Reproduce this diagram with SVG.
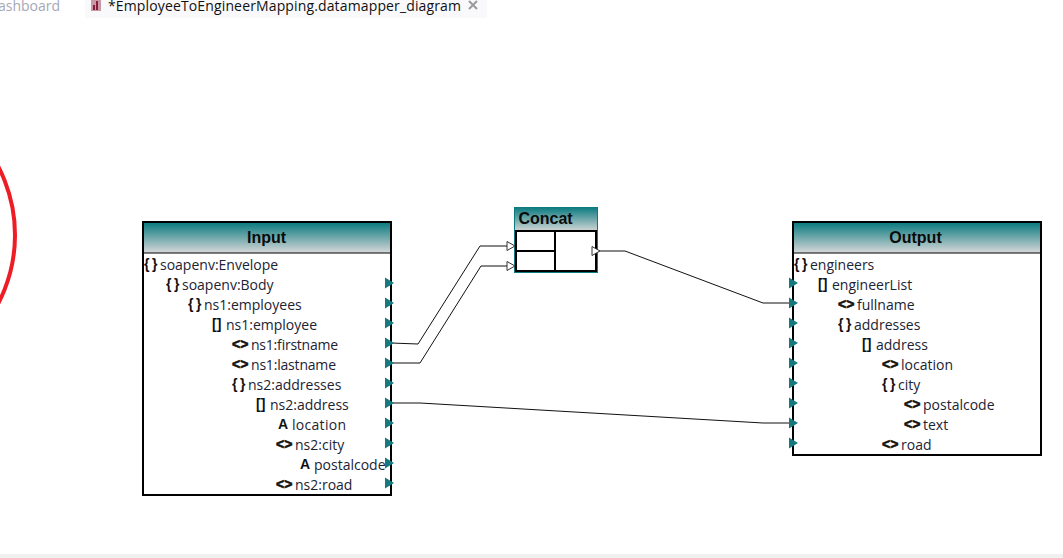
<svg xmlns="http://www.w3.org/2000/svg" width="1063" height="558" viewBox="0 0 1063 558">
<style>
text{font-family:"Open Sans","Noto Sans","Liberation Sans",sans-serif;font-size:14px;fill:#1c2333}
.ttl{font-family:"Liberation Sans",Arial,sans-serif;font-weight:700;font-size:16px;fill:#0b0b0b;text-anchor:middle}
.ic{font-family:"Liberation Sans",Arial,sans-serif;font-weight:700;font-size:14px;fill:#111}
.br{letter-spacing:2.500px}
.wd{font-size:14px;letter-spacing:0;stroke:#111;stroke-width:.6px}
.box{fill:#fff;stroke:#000;stroke-width:2}
.ln{fill:none;stroke:#111;stroke-width:1}
.cell{fill:none;stroke:#000;stroke-width:2}
</style>
<defs>
<linearGradient id="g" x1="0" y1="0" x2="0" y2="1"><stop offset="0" stop-color="#0c7b80"/><stop offset="1" stop-color="#d8d8d8"/></linearGradient>
<path id="p" d="M0-5.500L9 0 0 5.500Z" fill="#17797e"/>
<path id="h" d="M0-4.500L8 0 0 4.500Z" fill="#fff" stroke="#333" stroke-width="1"/>
</defs>
<rect x="85" y="0" width="402" height="18" fill="#f9f9fc"/>
<g id="tabs">
<text x="-2" y="11" style="fill:#a4a8b4">ashboard</text>
<rect x="91" y="0" width="10" height="11" fill="#c89aa8"/><path d="M94 10V5M97 10V1" stroke="#8a1d3a" stroke-width="2"/>
<text x="108" y="11" textLength="353" style="fill:#111">*EmployeeToEngineerMapping.datamapper_diagram</text>
<path d="M469 1L477 9M477 1L469 9" stroke="#9a9a9a" stroke-width="2" fill="none"/>
</g>
<circle cx="-133" cy="235" r="148" fill="none" stroke="#ee1c25" stroke-width="4"/>
<rect x="0" y="554" width="1063" height="4" fill="#f0f0f0"/>

<g id="connectors">
<path class="ln" d="M391 343L418 344 480 246H510"/>
<path class="ln" d="M391 363L420 363 481 266H510"/>
<path class="ln" d="M391 403L420 403 763 423H793"/>
<path class="ln" d="M597 251H625L763 303H793"/>
</g>

<g id="input">
<rect class="box" x="143" y="222" width="248" height="273"/>
<rect x="144" y="223" width="246" height="30" fill="url(#g)"/>
<path d="M143 253H391" stroke="#000" stroke-width="1"/>
<text class="ttl" x="266.500" y="243">Input</text>
<text class="ic br" x="144" y="269">{}</text><text x="160" y="270">soapenv:Envelope</text>
<text class="ic br" x="166" y="289">{}</text><text x="182" y="290">soapenv:Body</text>
<text class="ic br" x="188" y="309">{}</text><text x="204" y="310">ns1:employees</text>
<text class="ic" x="212" y="329">[]</text><text x="226" y="330">ns1:employee</text>
<text class="ic wd" x="232" y="349">&lt;&gt;</text><text x="251" y="350" textLength="87">ns1:firstname</text>
<text class="ic wd" x="232" y="369">&lt;&gt;</text><text x="251" y="370" textLength="85">ns1:lastname</text>
<text class="ic br" x="232" y="389">{}</text><text x="248" y="390">ns2:addresses</text>
<text class="ic" x="256" y="409">[]</text><text x="270" y="410">ns2:address</text>
<text class="ic" x="278" y="429">A</text><text x="292" y="430" textLength="54">location</text>
<text class="ic wd" x="276" y="449">&lt;&gt;</text><text x="295" y="450">ns2:city</text>
<text class="ic" x="300" y="469">A</text><text x="314" y="470">postalcode</text>
<text class="ic wd" x="276" y="489">&lt;&gt;</text><text x="295" y="490">ns2:road</text>
<use href="#p" x="385" y="283"/><use href="#p" x="385" y="303"/><use href="#p" x="385" y="323"/><use href="#p" x="385" y="343"/><use href="#p" x="385" y="363"/><use href="#p" x="385" y="383"/><use href="#p" x="385" y="403"/><use href="#p" x="385" y="423"/><use href="#p" x="385" y="443"/><use href="#p" x="385" y="463"/><use href="#p" x="385" y="483"/>
</g>

<g id="concat">
<rect x="514.500" y="207.500" width="83" height="24" fill="url(#g)"/>
<rect x="514.500" y="207.500" width="83" height="65" fill="none" stroke="#0c7b80" stroke-width="1"/>
<rect class="cell" x="516" y="231" width="80" height="40" style="fill:#fff"/>
<path class="cell" d="M516 251H555M555 231V271"/>
<text class="ttl" x="545.500" y="224">Concat</text>
<use href="#h" x="507" y="246"/><use href="#h" x="507" y="266"/><use href="#h" x="592" y="251"/>
</g>

<g id="output">
<rect class="box" x="793" y="222" width="248" height="233"/>
<rect x="794" y="223" width="246" height="30" fill="url(#g)"/>
<path d="M793 253H1041" stroke="#000" stroke-width="1"/>
<text class="ttl" x="915.500" y="243">Output</text>
<text class="ic br" x="794" y="269">{}</text><text x="810" y="270">engineers</text>
<text class="ic" x="818" y="289">[]</text><text x="832" y="290">engineerList</text>
<text class="ic wd" x="838" y="309">&lt;&gt;</text><text x="857" y="310">fullname</text>
<text class="ic br" x="838" y="329">{}</text><text x="854" y="330">addresses</text>
<text class="ic" x="862" y="349">[]</text><text x="876" y="350">address</text>
<text class="ic wd" x="882" y="369">&lt;&gt;</text><text x="901" y="370">location</text>
<text class="ic br" x="882" y="389">{}</text><text x="898" y="390">city</text>
<text class="ic wd" x="904" y="409">&lt;&gt;</text><text x="923" y="410">postalcode</text>
<text class="ic wd" x="904" y="429">&lt;&gt;</text><text x="923" y="430">text</text>
<text class="ic wd" x="882" y="449">&lt;&gt;</text><text x="901" y="450">road</text>
<use href="#p" x="789" y="283"/><use href="#p" x="789" y="303"/><use href="#p" x="789" y="323"/><use href="#p" x="789" y="343"/><use href="#p" x="789" y="363"/><use href="#p" x="789" y="383"/><use href="#p" x="789" y="403"/><use href="#p" x="789" y="423"/><use href="#p" x="789" y="443"/>
</g>
</svg>
